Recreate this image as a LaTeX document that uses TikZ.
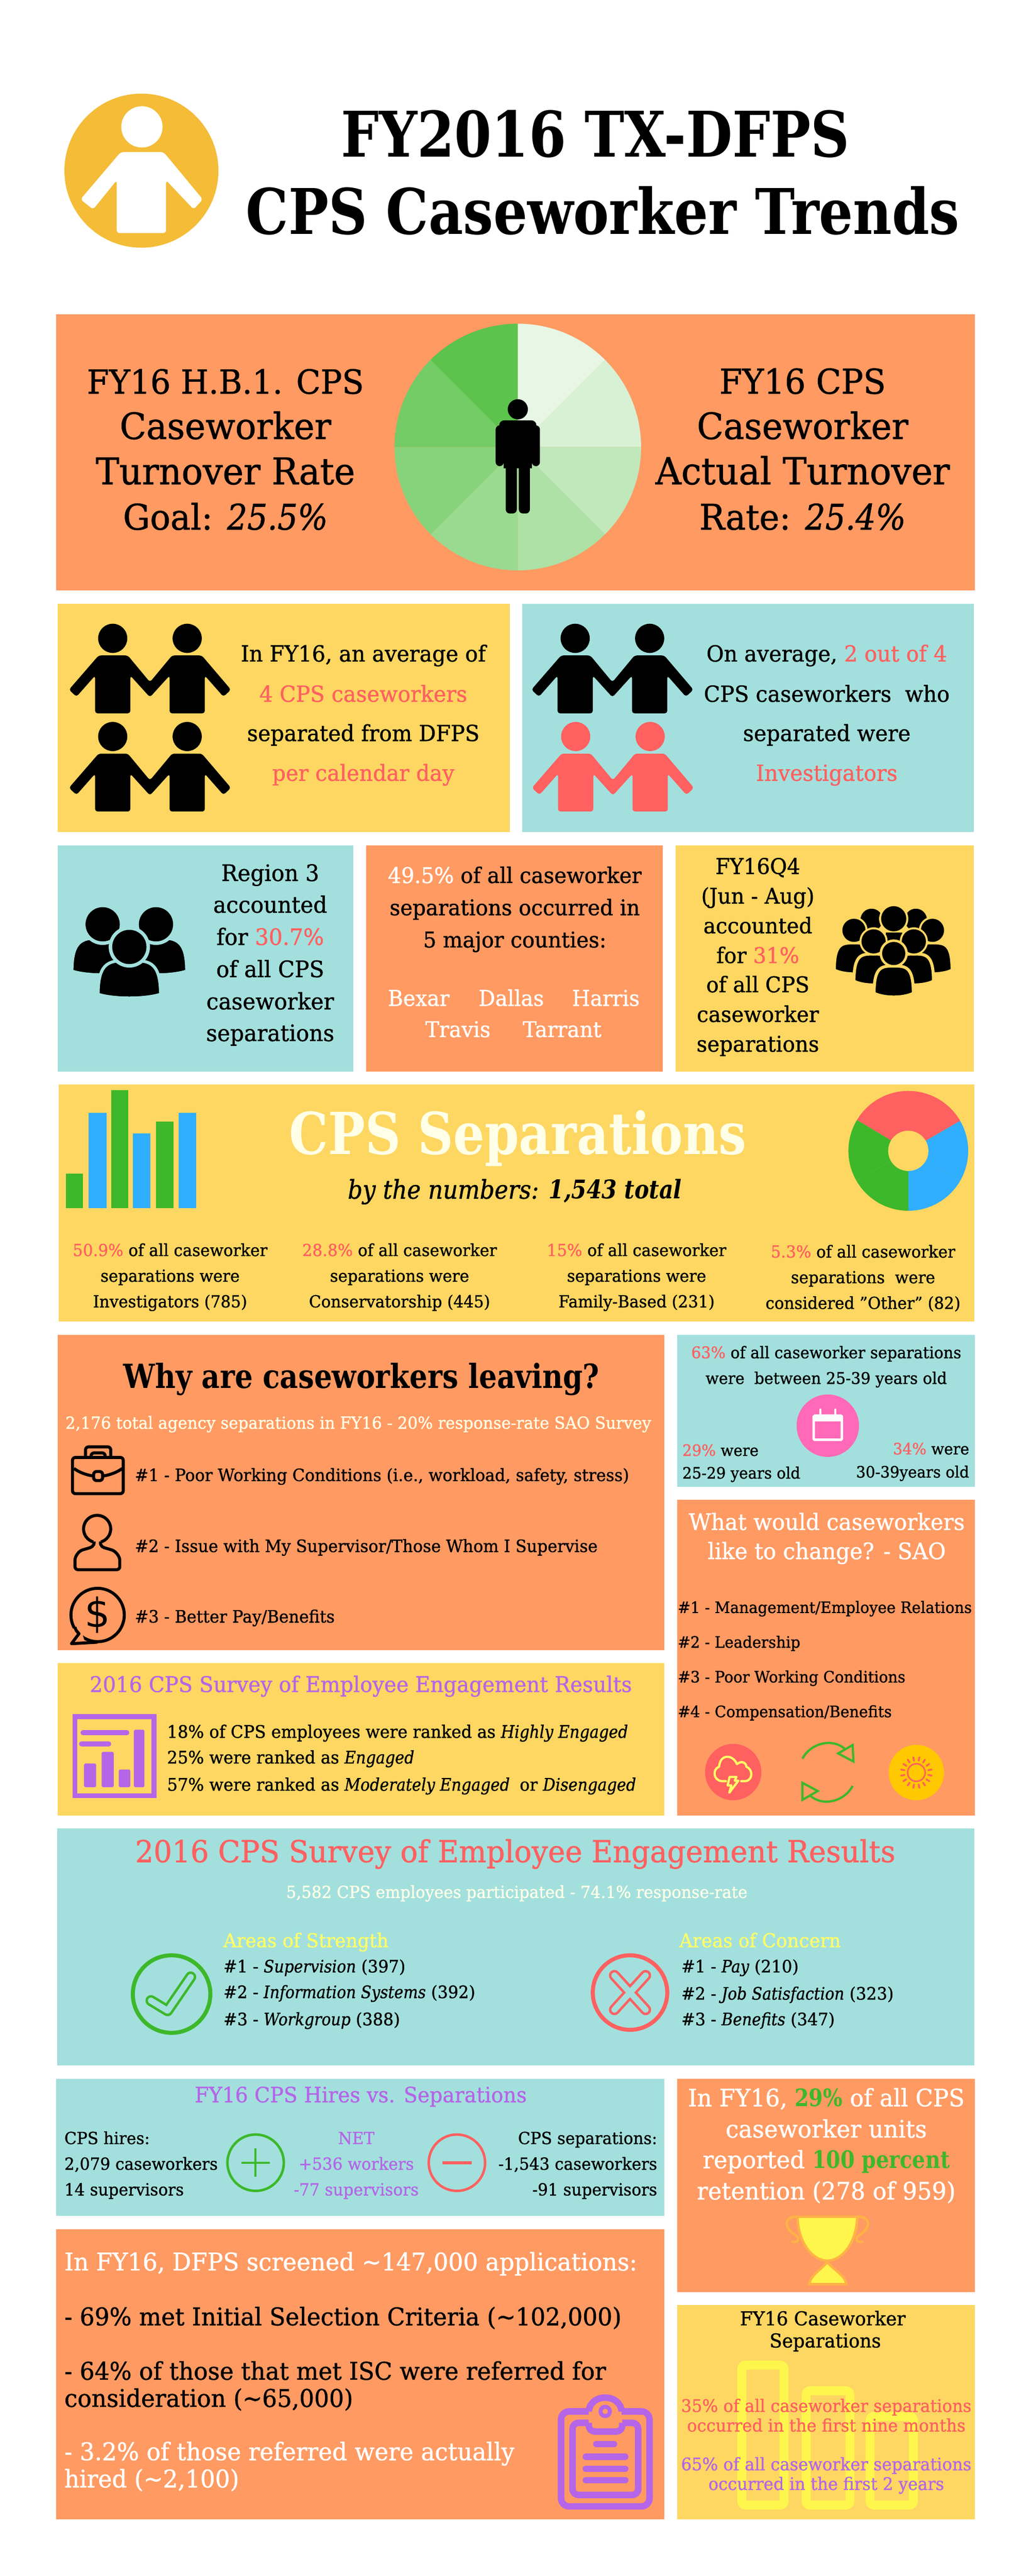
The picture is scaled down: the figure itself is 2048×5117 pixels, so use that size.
\documentclass[tikz,border=0pt]{standalone}
\usepackage{fontspec}
\setmainfont{DejaVu Serif}[UprightFeatures={FakeStretch=0.96,FakeBold=1},BoldFeatures={FakeStretch=0.85},ItalicFeatures={FakeStretch=0.9,FakeBold=1},BoldItalicFeatures={FakeStretch=0.85}]
\newfontfamily\dollarfont{DejaVu Sans}
\definecolor{org}{HTML}{FF9A62}
\definecolor{yel}{HTML}{FDD761}
\definecolor{tea}{HTML}{A3E0DD}
\definecolor{red1}{HTML}{FF6060}
\definecolor{grn}{HTML}{3DB82A}
\definecolor{blu}{HTML}{30AEFF}
\definecolor{pur}{HTML}{B565E8}
\definecolor{gold}{HTML}{F4BC37}
\definecolor{ylw}{HTML}{FFF64D}
\definecolor{crm}{HTML}{FFFFE8}
\definecolor{lem}{HTML}{FFFF66}
\definecolor{pnk}{HTML}{FF69B8}
\definecolor{sun}{HTML}{FFC800}
\definecolor{amb}{HTML}{FFB347}
\newcommand\Rd[1]{\textcolor{red1}{#1}}
\newcommand\Gn[1]{\textcolor{grn}{#1}}
\tikzset{
 t/.style={inner sep=0,outer sep=0,anchor=base,font=\fontsize{#1}{#1}\selectfont},
 tb/.style={inner sep=0,outer sep=0,anchor=base,font=\fontsize{#1}{#1}\selectfont\bfseries},
 tl/.style={t=#1,anchor=base west},
 tr/.style={t=#1,anchor=base east},
}
% pie slice with a Bezier outer edge: cx cy r a b colour
\newcommand\pieslice[6]{\pgfmathsetmacro\kk{4/3*tan((#5-#4)/4)*#3}
 \fill[#6] (#1,#2) -- ({#1+#3*cos(#4)},{#2-#3*sin(#4)})
 .. controls ({#1+#3*cos(#4)-\kk*sin(#4)},{#2-#3*sin(#4)-\kk*cos(#4)})
 and ({#1+#3*cos(#5)+\kk*sin(#5)},{#2-#3*sin(#5)+\kk*cos(#5)})
 .. ({#1+#3*cos(#5)},{#2-#3*sin(#5)}) -- cycle;}
% two people holding hands: origin x, y, colour
\newcommand\pair[3]{\begin{scope}[shift={(#1,#2)}]
 \fill[#3] (104,38) circle (29) (252,38) circle (29);
 \fill[#3,rounded corners=2.5pt] (76,72) -- (134,72) -- (178,125) -- (222,72) -- (281,72) -- (339,140) -- (324,154) -- (287,112) -- (287,187) -- (217,187) -- (217,112) -- (178,155) -- (139,112) -- (139,187) -- (69,187) -- (69,112) -- (32,154) -- (17,140) -- cycle;
\end{scope}}
% bust: x y(head) r halfwidth dy-bottom dy-shoulder halo-colour halo-r
\newcommand\bust[8]{%
 \fill[black,draw=#7,line width=3pt] ({#1-#4},{#2+#5}) .. controls ({#1-#4},{#2+#6}) and ({#1-#4*.6},{#2+#6}) .. (#1,{#2+#6}) .. controls ({#1+#4*.6},{#2+#6}) and ({#1+#4},{#2+#6}) .. ({#1+#4},{#2+#5}) .. controls ({#1+#4*.5},{#2+#5+10}) and ({#1-#4*.5},{#2+#5+10}) .. cycle;
 \fill[#7] (#1,#2) circle (#8);
 \fill[black] (#1,#2) circle (#3);}
\begin{document}
\begin{tikzpicture}[x=0.5pt,y=-0.5pt]
\useasboundingbox (0,0) rectangle (2048,5117);
\fill[white] (0,0) rectangle (2048,5117);
% ---------- panels
\fill[org] (112,624) rectangle (1937,1173);
\fill[yel] (115,1199) rectangle (1013,1653);
\fill[tea] (1038,1199) rectangle (1935,1653);
\fill[tea] (115,1679) rectangle (702,2129);
\fill[org] (728,1679) rectangle (1317,2129);
\fill[yel] (1343,1679) rectangle (1935,2129);
\fill[yel] (117,2154) rectangle (1936,2625);
\fill[org] (115,2652) rectangle (1320,3278);
\fill[tea] (1346,2652) rectangle (1937,2953);
\fill[org] (1346,2979) rectangle (1937,3606);
\fill[yel] (115,3304) rectangle (1320,3606);
\fill[tea] (114,3632) rectangle (1936,4103);
\fill[tea] (112,4129) rectangle (1320,4402);
\fill[org] (1346,4129) rectangle (1937,4553);
\fill[org] (112,4428) rectangle (1320,5004);
\fill[yel] (1346,4579) rectangle (1937,5004);
% ---------- header
\fill[gold] (281,339) circle (153);
\fill[white] (282,252) circle (41);
\fill[white,rounded corners=3pt] (240,302) -- (325,302) -- (403,396) -- (385,416) -- (330,358) -- (330,463) -- (232,463) -- (232,358) -- (185,416) -- (160,396) -- cycle;
\node[tb=62.5] (title1) at (1183,312) {FY2016 TX-DFPS};
\node[tb=62.5] (title2) at (1198,465) {CPS Caseworker Trends};
% ---------- top panel
\pieslice{1029}{888}{245}{45}{90}{grn!12!white}
\pieslice{1029}{888}{245}{0}{45}{grn!20!white}
\pieslice{1029}{888}{245}{-45}{0}{grn!32!white}
\pieslice{1029}{888}{245}{-90}{-45}{grn!42!white}
\pieslice{1029}{888}{245}{-135}{-90}{grn!52!white}
\pieslice{1029}{888}{245}{-180}{-135}{grn!62!white}
\pieslice{1029}{888}{245}{135}{180}{grn!72!white}
\pieslice{1029}{888}{245}{90}{135}{grn!84!white}
\fill[black] (1029,813) circle (20);
\fill[black,rounded corners=5pt] (992,835) rectangle (1066,860);
\fill[black,rounded corners=4pt] (985,845) rectangle (1001,926);
\fill[black,rounded corners=4pt] (1057,845) rectangle (1073,926);
\fill[black] (1001,840) rectangle (1057,930);
\fill[black,rounded corners=4pt] (1005,920) rectangle (1027,1020);
\fill[black,rounded corners=4pt] (1031,920) rectangle (1053,1020);
\node[t=33] (a1) at (448,782) {FY16 H.B.1. CPS};
\node[t=36] (a2) at (448,872) {Caseworker};
\node[t=36.5] (a3) at (448,962) {Turnover Rate};
\node[t=35] (a4) at (448,1052) {Goal: \textit{25.5\%}};
\node[t=34] (b1) at (1595,782) {FY16 CPS};
\node[t=36] (b2) at (1595,872) {Caseworker};
\node[t=37] (b3) at (1595,962) {Actual Turnover};
\node[t=35] (b4) at (1595,1052) {Rate: \textit{25.4\%}};
% ---------- row 2
\pair{120}{1230}{black}
\pair{120}{1425}{black}
\pair{1039}{1230}{black}
\pair{1040}{1425}{red1}
\node[t=22] (c1) at (722,1314) {In FY16, an average of};
\node[t=22] (c2) at (722,1394) {\Rd{4 CPS caseworkers}};
\node[t=22] (c3) at (722,1472) {separated from DFPS};
\node[t=22] (c4) at (722,1551) {\Rd{per calendar day}};
\node[t=22] (d1) at (1643,1314) {On average, \Rd{2 out of 4}};
\node[t=22] (d2) at (1643,1394) {CPS caseworkers\ \ who};
\node[t=22] (d3) at (1643,1472) {separated were};
\node[t=22] (d4) at (1643,1551) {\Rd{Investigators}};
% ---------- row 3
\begin{scope}[shift={(130,1780)}]
 \bust{74}{56}{34}{61}{93}{27}{tea}{41}
 \bust{180}{56}{34}{61}{93}{27}{tea}{41}
 \bust{127}{101}{34}{62}{94}{27}{tea}{41}
\end{scope}
\node[t=22.5] (e1) at (537,1750) {Region 3};
\node[t=22.5] (e2) at (537,1813) {accounted};
\node[t=22.5] (e3) at (537,1877) {for \Rd{30.7\%}};
\node[t=22.5] (e4) at (537,1941) {of all CPS};
\node[t=22.5] (e5) at (537,2005) {caseworker};
\node[t=22.5] (e6) at (537,2068) {separations};
\node[t=21.5] (f1) at (1023,1754) {\textcolor{white}{49.5\%} of all caseworker};
\node[t=21.5] (f2) at (1023,1818) {separations occurred in};
\node[t=21.5] (f3) at (1023,1882) {5 major counties:};
\node[t=21.5,text=white] (f4) at (832,1998) {Bexar};
\node[t=21.5,text=white] (f5) at (1016,1998) {Dallas};
\node[t=21.5,text=white] (f6) at (1204,1998) {Harris};
\node[t=21.5,text=white] (f7) at (910,2060) {Travis};
\node[t=21.5,text=white] (f8) at (1117,2060) {Tarrant};
\begin{scope}[shift={(1640,1780)}]
 \fill[black] (92,47) circle (22);
 \fill[black] (180,47) circle (22);
 \fill[yel] (136,45) circle (29);
 \fill[black] (136,45) circle (25);
 \fill[black] (120,72) rectangle (153,95);
 \bust{57}{68}{23}{39}{79}{25}{yel}{27}
 \bust{213}{68}{23}{39}{79}{25}{yel}{27}
 \bust{96}{90}{24}{39}{79}{25}{yel}{28}
 \bust{176}{90}{24}{39}{79}{25}{yel}{28}
 \bust{136}{114}{23}{39}{79}{25}{yel}{28}
\end{scope}
\node[t=21.5] (g1) at (1506,1736) {FY16Q4};
\node[t=21.5] (g2) at (1506,1795) {(Jun - Aug)};
\node[t=21.5] (g3) at (1506,1854) {accounted};
\node[t=21.5] (g4) at (1506,1913) {for \Rd{31\%}};
\node[t=21.5] (g5) at (1506,1971) {of all CPS};
\node[t=21.5] (g6) at (1506,2030) {caseworker};
\node[t=21.5] (g7) at (1506,2089) {separations};
% ---------- CPS separations
\fill[grn] (131,2331) rectangle (165,2400);
\fill[blu] (176,2211) rectangle (212,2400);
\fill[grn] (221,2165) rectangle (255,2400);
\fill[blu] (264,2251) rectangle (299,2400);
\fill[grn] (310,2228) rectangle (345,2400);
\fill[blu] (355,2211) rectangle (390,2400);
\pieslice{1805}{2286}{119}{30}{90}{red1}
\pieslice{1805}{2286}{119}{90}{149}{red1}
\pieslice{1805}{2286}{119}{-30}{30}{blu}
\pieslice{1805}{2286}{119}{-90}{-30}{blu}
\pieslice{1805}{2286}{119}{149}{210}{grn}
\pieslice{1805}{2286}{119}{210}{270}{grn}
\fill[yel] (1805,2286) circle (40);
\node[tb=57.5,text=crm] (h1) at (1029,2293) {CPS Separations};
\node[t=25.5] (h2) at (1023,2381) {\textit{by the numbers: \textbf{1,543 total}}};
\node[t=16.5] (i1) at (338,2495) {\Rd{50.9\%} of all caseworker};
\node[t=16.5] (i2) at (338,2546) {separations were};
\node[t=16.5] (i3) at (338,2597) {Investigators (785)};
\node[t=16.5] (j1) at (794,2495) {\Rd{28.8\%} of all caseworker};
\node[t=16.5] (j2) at (794,2546) {separations were};
\node[t=16.5] (j3) at (794,2597) {Conservatorship (445)};
\node[t=16.5] (k1) at (1265,2495) {\Rd{15\%} of all caseworker};
\node[t=16.5] (k2) at (1265,2546) {separations were};
\node[t=16.5] (k3) at (1265,2597) {Family-Based (231)};
\node[t=16.5] (m1) at (1715,2498) {\Rd{5.3\%} of all caseworker};
\node[t=16.5] (m2) at (1715,2549) {separations\ \ were};
\node[t=16.5] (m3) at (1715,2600) {considered "Other" (82)};
% ---------- Why
\node[tb=33] (n1) at (718,2758) {Why are caseworkers leaving?};
\node[t=16.5,text=crm] (n2) at (712,2838) {2,176 total agency separations in FY16 - 20\% response-rate SAO Survey};
\node[tl=16.9] (n3) at (268,2942) {\#1 - Poor Working Conditions (i.e., workload, safety, stress)};
\node[tl=16.9] (n4) at (268,3083) {\#2 - Issue with My Supervisor/Those Whom I Supervise};
\node[tl=16.9] (n5) at (268,3223) {\#3 - Better Pay/Benefits};
\begin{scope}[shift={(120,2860)},line width=3pt,black,rounded corners=3pt]
 \draw (24,35) rectangle (125,107);
 \draw (50,33) -- (50,14) -- (100,14) -- (100,33);
 \draw (61,33) -- (61,26) -- (89,26) -- (89,33);
 \draw[sharp corners] (27,57) .. controls (38,65) and (52,70) .. (66,72);
 \draw[sharp corners] (84,72) .. controls (98,70) and (112,65) .. (123,57);
 \draw (66,63) rectangle (84,81);
 \draw[sharp corners] (73,177) circle (27);
 \fill[org] (65,198) rectangle (81,210);
 \draw (67,202) .. controls (68,212) and (60,214) .. (50,217) .. controls (36,221) and (29,232) .. (29,245) -- (29,258) -- (118,258) -- (118,245) .. controls (118,232) and (110,221) .. (96,217) .. controls (86,214) and (78,212) .. (80,202);
 \draw[sharp corners] (74,348) circle (53);
 \fill[org] (17,375) -- (40,375) -- (50,405) -- (17,405) -- cycle;
 \draw[sharp corners,line join=round] (29,372) .. controls (30,378) and (33,381) .. (37,385) -- (22,405) -- (74,402);
\end{scope}
\node[inner sep=0,font=\dollarfont\fontsize{40}{40}\selectfont] (dollar) at (194,3208) {\$};
% ---------- ages
\node[t=16] (p1) at (1642,2698) {\Rd{63\%} of all caseworker separations};
\node[t=16] (p2) at (1642,2749) {were\ \ between 25-39 years old};
\fill[pnk] (1645,2832) circle (62);
\draw[white,line width=2.5pt,rounded corners=1pt] (1617,2812) rectangle (1673,2860);
\fill[white] (1617,2812) rectangle (1673,2824);
\draw[white,line width=2pt,line cap=round] (1630,2800) -- (1630,2816) (1660,2800) -- (1660,2816);
\node[tl=15.6] (p3) at (1356,2892) {\Rd{29\%} were};
\node[tl=15.6] (p4) at (1356,2937) {25-29 years old};
\node[tr=15.6] (p5) at (1926,2889) {\Rd{34\%} were};
\node[tr=15.6] (p6) at (1926,2935) {30-39years old};
% ---------- what would
\node[t=22.4,text=white] (q1) at (1643,3039) {What would caseworkers};
\node[t=22.4,text=white] (q2) at (1643,3097) {like to change? - SAO};
\node[tl=15.6] (q3) at (1347,3204) {\#1 - Management/Employee Relations};
\node[tl=15.6] (q4) at (1347,3273) {\#2 - Leadership};
\node[tl=15.6] (q5) at (1347,3342) {\#3 - Poor Working Conditions};
\node[tl=15.6] (q6) at (1347,3411) {\#4 - Compensation/Benefits};
\fill[red1] (1457,3520) circle (56);
\begin{scope}[shift={(1380,3440)},scale=0.338]
 \draw[lem,line width=2.2pt,line cap=round,line join=round] (185,290) -- (160,290) .. controls (110,285) and (105,220) .. (145,205) .. controls (150,130) and (225,130) .. (250,190) .. controls (280,165) and (305,185) .. (305,205) .. controls (345,220) and (345,285) .. (300,290) -- (275,290);
 \draw[lem,line width=2.2pt,line join=round] (207,265) -- (247,265) -- (237,288) -- (258,288) -- (205,358) -- (217,315) -- (195,315) -- cycle;
 \draw[grn,line width=2.2pt] (635,158) .. controls (680,70) and (810,30) .. (890,105);
 \draw[grn,line width=2.2pt] (845,127) -- (930,78) -- (935,175) -- cycle;
 \draw[grn,line width=2.2pt] (930,318) .. controls (885,405) and (760,445) .. (680,375);
 \draw[grn,line width=2.2pt] (725,348) -- (635,300) -- (635,400) -- cycle;
\end{scope}
\fill[sun] (1821,3521) circle (55);
\draw[red1,line width=1.5pt] (1821,3521) circle (17.5);
\foreach \a in {11.25,33.75,...,348.75}
 \draw[red1,line width=1.8pt,line cap=round] ({1821+24*cos(\a)},{3521+24*sin(\a)}) -- ({1821+31*cos(\a)},{3521+31*sin(\a)});
% ---------- yellow survey
\node[t=21.4,text=pur] (r1) at (717,3361) {2016 CPS Survey of Employee Engagement Results};
\draw[pur,line width=5pt] (149,3410) rectangle (306,3567);
\draw[pur,line width=5pt,line cap=round] (165,3442) -- (252,3442) (162,3464) -- (216,3464);
\fill[pur,rounded corners=1.5pt] (167,3503) rectangle (191,3550) (202,3480) rectangle (226,3550) (236,3515) rectangle (259,3550) (266,3436) rectangle (287,3550);
\node[tl=17.2] (r2) at (332,3452) {18\% of CPS employees were ranked as \textit{Highly Engaged}};
\node[tl=17.2] (r3) at (332,3503) {25\% were ranked as \textit{Engaged}};
\node[tl=17.2] (r4) at (332,3557) {57\% were ranked as \textit{Moderately Engaged\ \ }or \textit{Disengaged}};
% ---------- big teal
\node[t=30,text=red1] (s1) at (1024,3699) {2016 CPS Survey of Employee Engagement Results};
\node[t=16.5,text=crm] (s2) at (1027,3770) {5,582 CPS employees participated - 74.1\% response-rate};
\node[tl=19,text=lem] (s3) at (444,3868) {Areas of Strength};
\node[tl=17] (s4) at (444,3918) {\#1 - \textit{Supervision} (397)};
\node[tl=17] (s5) at (444,3969) {\#2 - \textit{Information Systems} (392)};
\node[tl=17] (s6) at (444,4023) {\#3 - \textit{Workgroup} (388)};
\node[tl=19,text=lem] (s7) at (1350,3868) {Areas of Concern};
\node[tl=17] (s8) at (1354,3918) {\#1 - \textit{Pay} (210)};
\node[tl=17] (s9) at (1354,3972) {\#2 - \textit{Job Satisfaction} (323)};
\node[tl=17] (s10) at (1354,4023) {\#3 - \textit{Benefits} (347)};
\draw[grn,line width=4pt] (341,3961) circle (77);
\draw[grn,line width=11pt,line cap=round,line join=round] (300,3974) -- (333,3994) -- (379,3927);
\draw[tea,line width=6pt,line cap=round,line join=round] (300,3974) -- (333,3994) -- (379,3927);
\draw[red1,line width=4pt] (1252,3958) circle (74);
\draw[red1,line width=11pt,line cap=round] (1221,3924) -- (1283,3992) (1283,3924) -- (1221,3992);
\draw[tea,line width=6pt,line cap=round] (1221,3924) -- (1283,3992) (1283,3924) -- (1221,3992);
% ---------- hires
\node[t=21,text=pur] (u1) at (717,4176) {FY16 CPS Hires vs. Separations};
\node[tl=16.6] (u2) at (128,4259) {CPS hires:};
\node[tl=16.6] (u3) at (128,4310) {2,079 caseworkers};
\node[tl=16.6] (u4) at (128,4361) {14 supervisors};
\node[t=16.6,text=pur] (u5) at (708,4259) {NET};
\node[t=16.6,text=pur] (u6) at (708,4310) {+536 workers};
\node[t=16.6,text=pur] (u7) at (708,4361) {-77 supervisors};
\node[tr=16.6] (u8) at (1306,4259) {CPS separations:};
\node[tr=16.6] (u9) at (1306,4310) {-1,543 caseworkers};
\node[tr=16.6] (u10) at (1306,4361) {-91 supervisors};
\draw[grn,line width=2.5pt] (508,4296) circle (56);
\draw[grn,line width=2pt] (480,4296) -- (536,4296) (508,4268) -- (508,4324);
\draw[red1,line width=2.5pt] (908,4296) circle (56);
\draw[red1,line width=3pt] (879,4296) -- (937,4296);
% ---------- retention
\node[t=23.9,text=white] (v1) at (1642,4184) {In FY16, \textcolor{grn}{\textbf{29\%}} of all CPS};
\node[t=23.9,text=white] (v2) at (1642,4246) {caseworker units};
\node[t=23.9,text=white] (v3) at (1642,4307) {reported \textcolor{grn}{\textbf{100 percent}}};
\node[t=23.9,text=white] (v4) at (1642,4369) {retention (278 of 959)};
\begin{scope}[shift={(1520,4380)},scale=0.3333,line width=2.5pt]
 \draw[amb,line cap=round] (195,70) .. controls (120,65) and (100,130) .. (190,185) .. controls (210,205) and (195,225) .. (165,220);
 \draw[amb,line cap=round] (550,70) .. controls (625,65) and (645,130) .. (555,185) .. controls (535,205) and (550,225) .. (580,220);
 \fill[ylw,draw=amb] (195,70) -- (550,70) .. controls (550,210) and (470,330) .. (372,332) .. controls (275,330) and (195,210) .. (195,70) -- cycle;
 \fill[ylw,draw=amb] (372,340) .. controls (330,390) and (270,420) .. (265,472) -- (485,472) .. controls (480,420) and (415,390) .. (372,340) -- cycle;
\end{scope}
% ---------- screened
\node[tl=24.2,text=white] (w1) at (128,4510) {In FY16, DFPS screened \textasciitilde147,000 applications:};
\node[tl=24.2] (w2) at (128,4619) {- 69\% met Initial Selection Criteria (\textasciitilde102,000)};
\node[tl=24.2] (w3) at (128,4727) {- 64\% of those that met ISC were referred for};
\node[tl=24.2] (w4) at (128,4781) {consideration (\textasciitilde65,000)};
\node[tl=24.2,text=white] (w5) at (128,4887) {- 3.2\% of those referred were actually};
\node[tl=24.2,text=white] (w6) at (128,4941) {hired (\textasciitilde2,100)};
\begin{scope}[shift={(1090,4740)},scale=0.3333,line width=6.5pt,pur,line join=round]
 \draw[rounded corners=8pt] (240,150) -- (75,150) -- (75,716) -- (602,716) -- (602,150) -- (436,150);
 \draw (240,150) .. controls (250,40) and (426,40) .. (436,150);
 \draw[line width=4pt] (338,150) circle (28);
 \draw[rounded corners=6pt] (240,218) -- (143,218) -- (143,648) -- (535,648) -- (535,218) -- (440,218);
 \draw[rounded corners=6pt] (240,218) -- (240,270) -- (440,270) -- (440,218);
 \draw[line cap=round] (285,345) -- (390,345) (223,420) -- (457,420) (223,492) -- (457,492) (223,560) -- (457,560);
\end{scope}
% ---------- last yellow
\draw[ylw,line width=9pt,rounded corners=4pt] (1474,4698) rectangle (1558,4976);
\draw[ylw,line width=9pt,rounded corners=4pt] (1602,4749) rectangle (1689,4976);
\draw[ylw,line width=9pt,rounded corners=4pt] (1729,4800) rectangle (1815,4976);
\node[t=19] (x1) at (1635,4619) {FY16 Caseworker};
\node[t=19] (x2) at (1640,4663) {Separations};
\node[t=17.2,text=red1] (x3) at (1642,4791) {35\% of all caseworker separations};
\node[t=17.2,text=red1] (x4) at (1642,4830) {occurred in the first nine months};
\node[t=17.2,text=pur] (x5) at (1642,4907) {65\% of all caseworker separations};
\node[t=17.2,text=pur] (x6) at (1642,4946) {occurred in the first 2 years};
\end{tikzpicture}
\end{document}
